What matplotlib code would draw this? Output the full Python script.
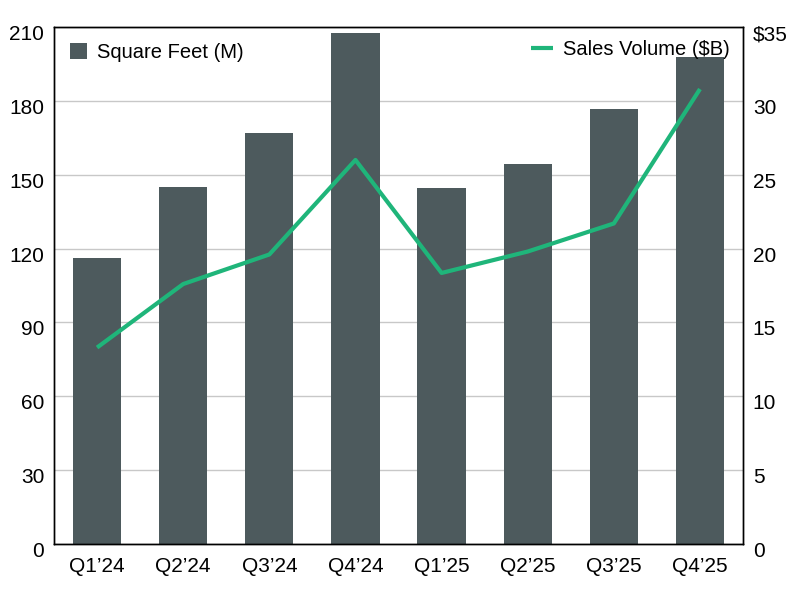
import matplotlib.pyplot as plt
from matplotlib.ticker import FuncFormatter
from matplotlib.transforms import ScaledTranslation
import numpy as np

plt.rcParams['font.family'] = ['Liberation Sans', 'DejaVu Sans']

# data
quarters = ["Q1\u201924", "Q2\u201924", "Q3\u201924", "Q4\u201924",
            "Q1\u201925", "Q2\u201925", "Q3\u201925", "Q4\u201925"]
square_feet = [116, 145, 167, 207.5, 144.6, 154.3, 176.7, 197.8]
sales_volume = [13.3, 17.6, 19.6, 26.0, 18.35, 19.8, 21.7, 30.8]

bar_color = '#4d5a5d'
line_color = '#1fb57a'

fig = plt.figure(figsize=(8, 6), dpi=100)
ax = fig.add_axes([0.0675, 0.0933, 0.8613, 0.8617])
ax2 = ax.twinx()

x = np.arange(len(quarters))
ax.bar(x, square_feet, width=0.56, color=bar_color, zorder=2,
       label='Square Feet (M)')
ax2.plot(x, sales_volume, color=line_color, linewidth=3,
         label='Sales Volume ($B)', solid_capstyle='butt')

ax.set_xlim(-0.5, len(quarters) - 0.5)
ax.set_ylim(0, 210)
ax.set_yticks(range(0, 211, 30))
ax2.set_ylim(0, 35)
ax2.set_yticks(range(0, 36, 5))
ax2.yaxis.set_major_formatter(FuncFormatter(lambda v, p: f"${v:.0f}" if v == 35 else f"{v:.0f}"))

ax.set_xticks(x)
ax.set_xticklabels(quarters)

ax.grid(axis='y', color='#c8c8c8', linewidth=1, zorder=0)
ax.set_axisbelow(True)

for a in (ax, ax2):
    a.tick_params(axis='both', length=0, labelsize=15, pad=7)
    for s in a.spines.values():
        s.set_color('black')
        s.set_linewidth(1)
ax.tick_params(axis='x', pad=9)

# y labels sit a bit below their gridlines in the original
shift = ScaledTranslation(0, -0.055, fig.dpi_scale_trans)
for lab in ax.get_yticklabels() + ax2.get_yticklabels():
    lab.set_transform(lab.get_transform() + shift)

ax.legend(loc='upper left', frameon=False, fontsize=14.5, handlelength=0.85,
          handleheight=0.85, borderaxespad=0.4, handletextpad=0.5)
ax2.legend(loc='upper right', frameon=False, fontsize=14.5, handlelength=1.1,
           borderaxespad=0.25, handletextpad=0.5)

fig.savefig('out.png', dpi=100)
